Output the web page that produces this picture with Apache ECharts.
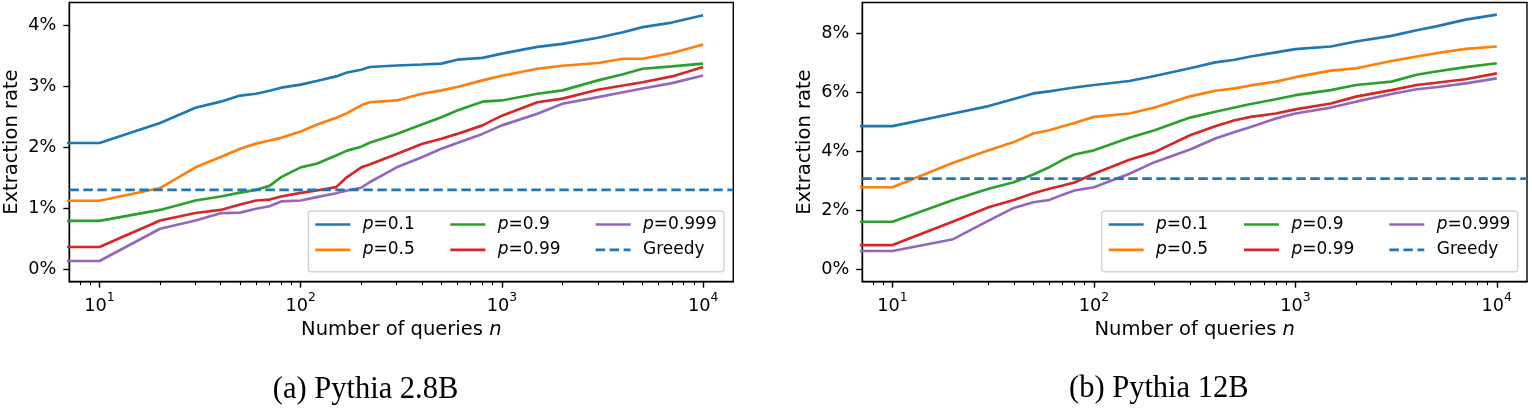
<!DOCTYPE html>
<html><head><meta charset="utf-8">
<script src="https://cdn.jsdelivr.net/npm/echarts@6/dist/echarts.min.js"></script>
<style>html,body{margin:0;padding:0;background:#fff}#c{width:1532px;height:409px}</style>
</head><body><div id="c"></div>
<script>
// ---------- data ----------
const seriesNames = ['p=0.1', 'p=0.5', 'p=0.9', 'p=0.99', 'p=0.999'];
const colors = ['#1f77b4', '#ff7f0e', '#2ca02c', '#d62728', '#9467bd'];

const nLeft = [1,10,20,30,40,50,60,70,80,100,120,150,170,200,220,300,400,500,600,800,1000,1500,2000,3000,4000,5000,7000,10000];
const leftP01   = [2.07,2.07,2.40,2.65,2.75,2.85,2.88,2.93,2.98,3.03,3.09,3.165,3.23,3.275,3.32,3.345,3.36,3.375,3.44,3.47,3.54,3.65,3.70,3.80,3.89,3.975,4.05,4.17];
const leftP05   = [1.12,1.12,1.33,1.67,1.84,1.975,2.06,2.11,2.155,2.26,2.37,2.485,2.56,2.69,2.74,2.77,2.88,2.935,2.99,3.10,3.175,3.29,3.34,3.385,3.455,3.455,3.55,3.69];
const leftP09   = [0.79,0.79,0.97,1.125,1.19,1.255,1.30,1.365,1.51,1.67,1.73,1.865,1.945,2.01,2.075,2.22,2.375,2.495,2.605,2.75,2.77,2.88,2.935,3.10,3.20,3.29,3.33,3.375];
const leftP099  = [0.36,0.36,0.795,0.92,0.97,1.06,1.125,1.14,1.19,1.25,1.29,1.345,1.51,1.67,1.715,1.89,2.055,2.14,2.22,2.36,2.52,2.74,2.80,2.945,3.015,3.07,3.165,3.32];
const leftP0999 = [0.13,0.13,0.66,0.795,0.915,0.925,0.99,1.03,1.11,1.125,1.18,1.245,1.29,1.335,1.425,1.67,1.835,1.975,2.07,2.22,2.36,2.55,2.715,2.825,2.905,2.965,3.055,3.18];
const leftGreedy = 1.30;

const nRight = [1,10,20,30,40,50,60,70,80,100,150,200,300,400,500,600,800,1000,1500,2000,3000,4000,5000,7000,10000];
const rightP01   = [4.84,4.84,5.27,5.52,5.76,5.95,6.02,6.09,6.15,6.235,6.37,6.54,6.80,7.00,7.09,7.20,7.34,7.45,7.54,7.71,7.90,8.09,8.22,8.45,8.62];
const rightP05   = [2.77,2.77,3.60,4.02,4.30,4.59,4.70,4.84,4.95,5.155,5.27,5.47,5.85,6.04,6.12,6.22,6.35,6.50,6.72,6.80,7.05,7.20,7.31,7.46,7.54];
const rightP09   = [1.60,1.60,2.34,2.72,2.94,3.20,3.45,3.70,3.88,4.02,4.45,4.70,5.13,5.33,5.47,5.59,5.75,5.89,6.06,6.235,6.35,6.58,6.69,6.84,6.97];
const rightP099  = [0.81,0.81,1.61,2.09,2.34,2.57,2.72,2.83,2.93,3.23,3.70,3.96,4.53,4.84,5.04,5.155,5.27,5.41,5.61,5.84,6.06,6.235,6.31,6.43,6.63];
const rightP0999 = [0.61,0.61,1.01,1.64,2.07,2.26,2.34,2.52,2.66,2.77,3.23,3.62,4.05,4.42,4.64,4.81,5.10,5.27,5.47,5.67,5.93,6.09,6.16,6.29,6.46];
const rightGreedy = 3.06;

const xMajorTicks = [10, 100, 1000, 10000];
const xMinorTicks = [8,9,20,30,40,50,60,70,80,90,200,300,400,500,600,700,800,900,2000,3000,4000,5000,6000,7000,8000,9000];
const leftYTicks = [0, 1, 2, 3, 4];
const rightYTicks = [0, 2, 4, 6, 8];
const captions = ['(a) Pythia 2.8B', '(b) Pythia 12B'];
const xAxisName = 'Number of queries {i|n}';
const yAxisName = 'Extraction rate';

// ---------- layout / style ----------
const X_MIN = Math.pow(10, 0.85), X_MAX = Math.pow(10, 4.15);
const FONT = 'DejaVu Sans';
const TICK_FS = 17.7, NAME_FS = 19.5, LEG_FS = 17;
const LW = 2.65;

const grids = [
  {left: 69.3, top: 2.5, width: 664, height: 279.2},
  {left: 862.3, top: 2.5, width: 664.7, height: 279.2}
];

function xAxesFor(gi) {
  const base = {
    type: 'log', logBase: 10, gridIndex: gi, min: X_MIN, max: X_MAX, position: 'bottom',
    splitLine: {show: false}
  };
  return [
    Object.assign({}, base, {
      axisLine: {show: true, onZero: false, lineStyle: {color: '#000', width: 1.4}},
      axisTick: {show: true, customValues: xMajorTicks, length: 6, lineStyle: {color: '#000', width: 1.4}},
      axisLabel: {
        show: true, customValues: xMajorTicks, margin: 9.8,
        formatter: v => '{b|10}{s|' + Math.round(Math.log10(v)) + '}',
        rich: {
          b: {fontFamily: FONT, fontSize: TICK_FS, color: '#000', lineHeight: 24, verticalAlign: 'bottom'},
          s: {fontFamily: FONT, fontSize: 12.4, color: '#000', lineHeight: 14, verticalAlign: 'top'}
        }
      },
      name: xAxisName, nameLocation: 'middle', nameGap: 36.8,
      nameTextStyle: {fontFamily: FONT, fontSize: NAME_FS, color: '#000',
        rich: {i: {fontFamily: FONT, fontSize: NAME_FS, fontStyle: 'italic', color: '#000'}}}
    }),
    Object.assign({}, base, {
      axisLine: {show: false, onZero: false},
      axisTick: {show: true, customValues: xMinorTicks, length: 3.5, lineStyle: {color: '#000', width: 1.1}},
      axisLabel: {show: false}
    })
  ];
}

function yAxisFor(gi, min, max, ticks) {
  return {
    type: 'value', gridIndex: gi, min: min, max: max,
    splitLine: {show: false},
    axisLine: {show: true, onZero: false, lineStyle: {color: '#000', width: 1.4}},
    axisTick: {show: true, customValues: ticks, length: 6, lineStyle: {color: '#000', width: 1.4}},
    axisLabel: {show: true, customValues: ticks, margin: 13, formatter: '{value}%',
      fontFamily: FONT, fontSize: TICK_FS, color: '#000'},
    name: yAxisName, nameLocation: 'middle', nameGap: 47.5,
    nameTextStyle: {fontFamily: FONT, fontSize: NAME_FS, color: '#000'}
  };
}

function seriesFor(xi, yi, n, arrays, greedy) {
  const out = arrays.map((arr, k) => ({
    type: 'line', name: seriesNames[k], xAxisIndex: xi, yAxisIndex: yi,
    data: n.map((x, i) => [x, arr[i]]),
    showSymbol: false, symbol: 'none', z: 2,
    lineStyle: {color: colors[k], width: LW}, itemStyle: {color: colors[k]},
    animation: false
  }));
  out.push({
    type: 'line', name: 'Greedy', xAxisIndex: xi, yAxisIndex: yi,
    data: [[X_MIN, greedy], [X_MAX, greedy]],
    showSymbol: false, symbol: 'none', z: 3,
    lineStyle: {color: colors[0], width: LW, type: [9.5, 4.5]}, itemStyle: {color: colors[0]},
    animation: false
  });
  return out;
}

function legendCol(left, names) {
  return {
    orient: 'vertical', left: left, top: 216, padding: 0,
    itemWidth: 35, itemHeight: 20, itemGap: 8.3,
    selectedMode: false,
    data: names,
    lineStyle: {width: LW},
    itemStyle: {color: 'rgba(0,0,0,0)', borderWidth: 0, opacity: 0},
    formatter: nm => nm === 'Greedy' ? nm : '{i|p}' + nm.slice(1),
    textStyle: {fontFamily: FONT, fontSize: LEG_FS, color: '#000', padding: [0, 0, 0, 7.4],
      rich: {i: {fontFamily: FONT, fontSize: LEG_FS, fontStyle: 'italic', color: '#000'}}}
  };
}

const legendCols = [['p=0.1', 'p=0.5'], ['p=0.9', 'p=0.99'], ['p=0.999', 'Greedy']];
const legendLeftsL = [314, 449, 594.3];
const legendLeftsR = [1107.3, 1242.7, 1388];

const option = {
  animation: false,
  textStyle: {fontFamily: FONT},
  grid: grids.map(g => Object.assign({show: true, borderColor: '#000', borderWidth: 1.4, backgroundColor: 'transparent'}, g)),
  xAxis: xAxesFor(0).concat(xAxesFor(1)),
  yAxis: [yAxisFor(0, -0.21, 4.38, leftYTicks), yAxisFor(1, -0.43, 9.03, rightYTicks)],
  legend: legendCols.map((c, i) => legendCol(legendLeftsL[i], c))
    .concat(legendCols.map((c, i) => legendCol(legendLeftsR[i], c))),
  series: seriesFor(0, 0, nLeft, [leftP01, leftP05, leftP09, leftP099, leftP0999], leftGreedy)
    .concat(seriesFor(2, 1, nRight, [rightP01, rightP05, rightP09, rightP099, rightP0999], rightGreedy)),
  graphic: [
    {type: 'rect', z: 3, shape: {x: 308.3, y: 211, width: 415.7, height: 60.7, r: 3},
      style: {fill: 'rgba(255,255,255,0.8)', stroke: '#d4d4d4', lineWidth: 1.4}},
    {type: 'rect', z: 3, shape: {x: 1101.7, y: 211, width: 416, height: 60.7, r: 3},
      style: {fill: 'rgba(255,255,255,0.8)', stroke: '#d4d4d4', lineWidth: 1.4}},
    {type: 'text', x: 365.5, y: 400 - 0.3375 * 30.5,
      style: {text: captions[0], font: '30.5px "Liberation Serif"', fill: '#000', textAlign: 'center', textVerticalAlign: 'middle'}},
    {type: 'text', x: 1158.8, y: 399.5 - 0.3375 * 30.5,
      style: {text: captions[1], font: '30.5px "Liberation Serif"', fill: '#000', textAlign: 'center', textVerticalAlign: 'middle'}}
  ]
};

const chart = echarts.init(document.getElementById('c'), null, {renderer: 'canvas'});
chart.setOption(option);
</script>
</body></html>
